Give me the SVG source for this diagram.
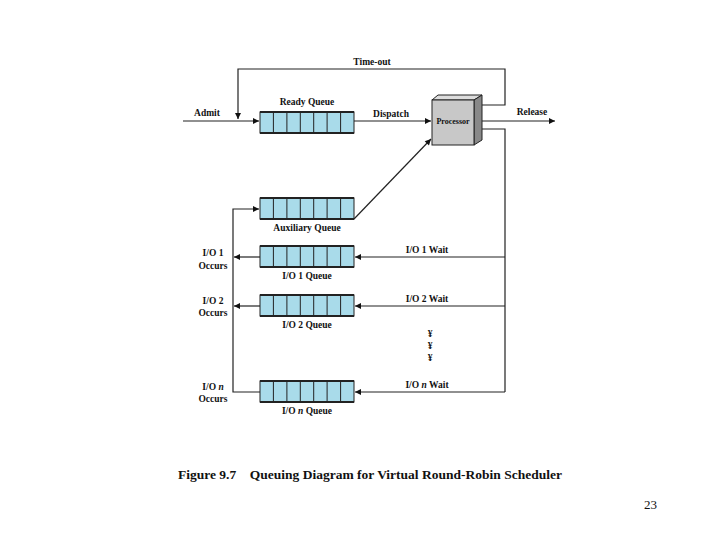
<svg xmlns="http://www.w3.org/2000/svg" width="720" height="540" viewBox="0 0 720 540">
<style>
text{font-family:"Liberation Serif",serif;font-weight:bold;font-size:9.5px;fill:#111}
.c{text-anchor:middle}
.q{fill:#a9dbea;stroke:#222;stroke-width:1}
.qb{fill:none;stroke:#222;stroke-width:2}
.ln{fill:none;stroke:#222;stroke-width:1.2}
</style>
<defs>
<marker id="a" viewBox="0 0 10 10" refX="10" refY="5" markerWidth="8" markerHeight="6" orient="auto" markerUnits="userSpaceOnUse"><path d="M0,0L10,5L0,10z" fill="#111"/></marker>
<g id="cells"><rect class="q" x="0" y="0" width="94" height="21"/><path d="M13.4,0v21M26.9,0v21M40.3,0v21M53.7,0v21M67.1,0v21M80.6,0v21" stroke="#222" stroke-width="1"/><path class="qb" d="M0,0h94M0,21h94"/></g>
</defs>
<g id="connectors">
<path class="ln" d="M474,105H505V69H238V119" marker-end="url(#a)"/>
<path class="ln" d="M183,121H259" marker-end="url(#a)"/>
<path class="ln" d="M354,121H431" marker-end="url(#a)"/>
<path class="ln" d="M482,121H555" marker-end="url(#a)" stroke-width="2"/>
<path class="ln" d="M354,219L431,139" marker-end="url(#a)"/>
<path class="ln" d="M474,129H505V392"/>
<path class="ln" d="M505,257H355" marker-end="url(#a)"/>
<path class="ln" d="M505,306H355" marker-end="url(#a)"/>
<path class="ln" d="M505,392H355" marker-end="url(#a)"/>
<path class="ln" d="M260,257H234" marker-end="url(#a)"/>
<path class="ln" d="M260,306H234" marker-end="url(#a)"/>
<path class="ln" d="M260,392H233V209H259" marker-end="url(#a)"/>
</g>
<g id="ready"><use href="#cells" x="260" y="112"/><text class="c" x="307" y="105">Ready Queue</text></g>
<g id="aux"><use href="#cells" x="260" y="198"/><text class="c" x="307" y="231">Auxiliary Queue</text></g>
<g id="io1"><use href="#cells" x="260" y="246"/><text class="c" x="307" y="279">I/O 1 Queue</text></g>
<g id="io2"><use href="#cells" x="260" y="295"/><text class="c" x="307" y="328">I/O 2 Queue</text></g>
<g id="ion"><use href="#cells" x="260" y="381"/><text class="c" x="307" y="414">I/O <tspan font-style="italic">n</tspan> Queue</text></g>
<g id="processor">
<path d="M432,100L438,95H482L474,100z" fill="#ddd" stroke="#222"/>
<path d="M474,100L482,95V140L474,145z" fill="#888" stroke="#222"/>
<rect x="432" y="100" width="42" height="45" fill="#c8c8c8" stroke="#222"/>
<text class="c" x="453" y="124" style="font-size:8px">Processor</text>
</g>
<text class="c" x="372" y="65">Time-out</text>
<text class="c" x="207" y="116">Admit</text>
<text class="c" x="391" y="117">Dispatch</text>
<text class="c" x="532" y="115">Release</text>
<text class="c" x="427" y="253">I/O 1 Wait</text>
<text class="c" x="427" y="302">I/O 2 Wait</text>
<text class="c" x="427" y="388">I/O <tspan font-style="italic">n</tspan> Wait</text>
<text class="c" x="430" y="337">¥</text>
<text class="c" x="430" y="349">¥</text>
<text class="c" x="430" y="361">¥</text>
<text class="c" x="213" y="256">I/O 1</text><text class="c" x="213" y="269">Occurs</text>
<text class="c" x="213" y="304">I/O 2</text><text class="c" x="213" y="316">Occurs</text>
<text class="c" x="213" y="390">I/O <tspan font-style="italic">n</tspan></text><text class="c" x="213" y="402">Occurs</text>
<text x="178" y="479" style="font-size:13.5px" xml:space="preserve">Figure 9.7    Queuing Diagram for Virtual Round-Robin Scheduler</text>
<text x="644" y="509" style="font-weight:normal;font-size:13px">23</text>
</svg>
